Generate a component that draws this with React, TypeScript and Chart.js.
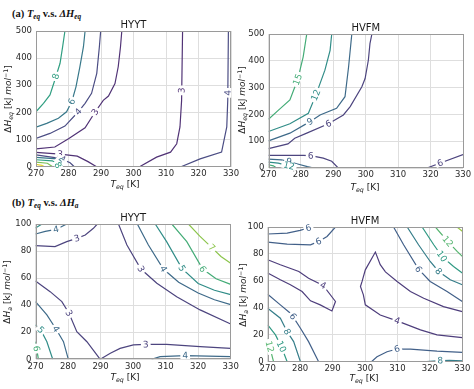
import React, { useEffect, useRef } from 'react';
import { Chart, registerables } from 'chart.js';

Chart.register(...registerables);

type P = [number, number];
type Line = { lvl: number; pts: P[]; lab?: P };

// ---------- axes ----------
const tMin = 270;
const tMax = 330;
const tStep = 10;
const hEqMax = 500;
const hEqStep = 100;
const hAMax = 100;
const hAStep = 20;

// ---------- (a) HYYT : T_eq vs dH_eq ----------
const aH_8: P[] = [[270, 202], [272.3, 233], [274.3, 264], [275.8, 319], [277.4, 381], [278.2, 442], [278.9, 500]];
const aH_6: P[] = [[270, 145], [273.3, 159], [276.9, 178], [279.4, 202], [281, 239], [282.3, 294], [283.5, 368], [284.6, 442], [285.1, 500]];
const aH_4: P[] = [[270, 104], [274.3, 122], [278.9, 149], [283, 202], [285.1, 233], [287.1, 270], [288.7, 344], [289.5, 442], [289.9, 500]];
const aH_3: P[] = [[270, 65], [275.8, 72], [280, 102], [285.1, 143], [288.2, 201], [290.7, 244], [292.3, 260], [294.3, 306], [295.3, 368], [296, 442], [296.4, 500]];
const aH_3b: P[] = [[270, 52], [277.4, 46], [282.7, 38], [286, 18], [288.5, 0]];
const aH_4b: P[] = [[270, 43], [277.4, 30], [280.5, 14], [281.7, 0]];
const aH_6b: P[] = [[270, 34], [276.5, 28], [277.8, 14], [278.2, 0]];
const aH_8b: P[] = [[270, 25], [275, 21], [276.5, 10], [277, 0]];
const aH_10b: P[] = [[270, 16], [273.5, 12], [275, 0]];
const aH_12b: P[] = [[270, 8], [271.8, 4], [272.5, 0]];
const aH_3r: P[] = [[302, 0], [307.1, 34.6], [311.4, 53], [313.3, 84], [314.3, 146], [314.8, 244], [315.1, 500]];
const aH_4r: P[] = [[314.8, 0], [320.5, 28], [327.1, 53], [328.7, 146], [329, 244], [329.2, 500]];

const aHyytLines: Line[] = [
  { lvl: 8, pts: aH_8, lab: [276.5, 331] },
  { lvl: 6, pts: aH_6, lab: [281, 239] },
  { lvl: 4, pts: aH_4, lab: [283, 202] },
  { lvl: 3, pts: aH_3, lab: [288.2, 201] },
  { lvl: 3, pts: aH_3b, lab: [277.4, 46] },
  { lvl: 4, pts: aH_4b, lab: [278.2, 26] },
  { lvl: 6, pts: aH_6b, lab: [277.3, 19] },
  { lvl: 8, pts: aH_8b, lab: [276.8, 5] },
  { lvl: 10, pts: aH_10b },
  { lvl: 12, pts: aH_12b },
  { lvl: 3, pts: aH_3r, lab: [315, 281] },
  { lvl: 4, pts: aH_4r, lab: [329, 272] },
];

// ---------- (a) HVFM : T_eq vs dH_eq ----------
const aV_15: P[] = [[270, 182], [273, 215], [276.6, 254], [279, 330], [280.7, 415], [281.8, 500]];
const aV_12: P[] = [[270, 136], [276.6, 165], [282.3, 204], [284.6, 272], [287.4, 365], [289, 439], [289.5, 500]];
const aV_9: P[] = [[270, 101], [276.6, 130], [282.8, 173], [285.9, 198], [291, 223], [293.6, 266], [294.7, 377], [295.7, 500]];
const aV_6: P[] = [[270, 72], [276, 90], [278.1, 111], [281.8, 130], [288.5, 165], [293.1, 198], [295.2, 229], [298.8, 303], [299.8, 334], [300.8, 402], [301.3, 464], [301.9, 500]];
const aV_6b: P[] = [[270, 47], [280.7, 47], [283, 46], [286.9, 37], [289.5, 25], [291.5, 0]];
const aV_9b: P[] = [[270, 33], [274, 30], [276.3, 24], [279, 15], [282, 5], [284, 0]];
const aV_12b: P[] = [[270, 22], [273, 18], [276.3, 8], [277.5, 0]];
const aV_15b: P[] = [[270, 12], [271.5, 8], [272.5, 0]];
const aV_18b: P[] = [[270, 5], [270.8, 0]];
const aV_6r: P[] = [[318.9, 0], [323, 18.5], [330, 50]];

const aHvfmLines: Line[] = [
  { lvl: 15, pts: aV_15, lab: [279, 330] },
  { lvl: 12, pts: aV_12, lab: [284.6, 272] },
  { lvl: 9, pts: aV_9, lab: [282.8, 173] },
  { lvl: 6, pts: aV_6, lab: [288.5, 165] },
  { lvl: 6, pts: aV_6b, lab: [283, 46] },
  { lvl: 9, pts: aV_9b, lab: [276.3, 24] },
  { lvl: 12, pts: aV_12b, lab: [276.3, 8] },
  { lvl: 15, pts: aV_15b },
  { lvl: 18, pts: aV_18b },
  { lvl: 6, pts: aV_6r, lab: [323, 18.5] },
];

// ---------- (b) HYYT : T_eq vs dH_a ----------
const bH_5t: P[] = [[270, 97], [272, 100]];
const bH_4t: P[] = [[270, 92.6], [273, 94.5], [276.3, 96], [279.6, 100]];
const bH_3t: P[] = [[270, 84], [276, 83.3], [279.6, 87], [282.7, 89.4], [285.3, 91.9], [287.8, 96.8], [289, 100]];
const bH_3r: P[] = [[295.5, 100], [298.1, 84.5], [302.4, 66.7], [307.3, 56.2], [313.4, 46.3], [320.6, 36.5], [330, 26.1]];
const bH_4r: P[] = [[301.3, 100], [304.7, 84.5], [309.3, 66.7], [314, 57], [320, 49], [325, 44], [330, 40.4]];
const bH_5r: P[] = [[306.8, 100], [310.3, 87], [315, 67.2], [320, 56], [325, 51], [330, 47.8]];
const bH_6r: P[] = [[311.9, 100], [316.5, 87], [321.4, 66.7], [325.5, 59.5], [330, 55.4]];
const bH_7r: P[] = [[317, 100], [320.5, 91], [324.2, 82.5], [327, 76], [330, 70.9]];
const bH_3l: P[] = [[270, 57.9], [274.5, 50], [278.1, 42.6], [280.3, 34], [282.7, 20.4], [285.8, 13], [289.9, 0]];
const bH_4l: P[] = [[270, 42.6], [273.5, 32.8], [276.3, 22.4], [278.6, 13], [280.1, 0]];
const bH_5l: P[] = [[270, 25.4], [271.6, 21.7], [273.5, 13], [275.3, 0]];
const bH_6l: P[] = [[270, 13], [270.9, 0]];
const bH_3b: P[] = [[289.9, 0], [293, 4.5], [296, 8.1], [300.1, 10.6], [303.9, 11], [310.3, 11], [320.6, 9.4], [330, 8.1]];
const bH_4b: P[] = [[305.7, 0], [308.3, 2], [316, 2.7], [330, 2]];

const bHyytLines: Line[] = [
  { lvl: 5, pts: bH_5t },
  { lvl: 4, pts: bH_4t, lab: [276.3, 96] },
  { lvl: 3, pts: bH_3t, lab: [282.7, 89.4] },
  { lvl: 3, pts: bH_3r, lab: [302.4, 66.7] },
  { lvl: 4, pts: bH_4r, lab: [309.3, 66.7] },
  { lvl: 5, pts: bH_5r, lab: [315, 67.2] },
  { lvl: 6, pts: bH_6r, lab: [321.4, 66.7] },
  { lvl: 7, pts: bH_7r, lab: [324.2, 82.5] },
  { lvl: 3, pts: bH_3l, lab: [280.3, 34] },
  { lvl: 4, pts: bH_4l, lab: [276.3, 22.4] },
  { lvl: 5, pts: bH_5l, lab: [271.6, 21.7] },
  { lvl: 6, pts: bH_6l, lab: [270.4, 8] },
  { lvl: 3, pts: bH_3b, lab: [303.9, 11] },
  { lvl: 4, pts: bH_4b, lab: [316, 2.7] },
];

// ---------- (b) HVFM : T_eq vs dH_a ----------
const bV_6t: P[] = [[270, 94.8], [276, 95.5], [280, 97.5], [283.2, 99.8]];
const bV_6a: P[] = [[270, 88.8], [276, 87.3], [283.2, 86.8], [285.7, 89.3], [288.3, 93], [290.9, 100]];
const bV_4l: P[] = [[270, 75.7], [273.9, 72], [279.6, 67], [282.6, 62], [287.1, 56.6], [290.9, 44.7], [289.8, 37.7], [286.2, 42.2], [283.2, 45.2], [280.6, 52.1], [277, 57.1], [273.9, 60.8], [270, 65.8]];
const bV_6l: P[] = [[270, 50.1], [273.9, 42.2], [277, 36], [277.8, 33.5], [280.1, 24.8], [282.6, 14.9], [285.7, 0]];
const bV_8l: P[] = [[270, 39.7], [273.9, 32.3], [276, 22.3], [278, 14.9], [280.1, 0]];
const bV_10l: P[] = [[270, 27.3], [272.4, 19.9], [274.2, 11.2], [276, 0]];
const bV_12l: P[] = [[270, 17.4], [270.6, 11.2], [271.8, 0]];
const bV_4m: P[] = [[330, 37.2], [324.2, 40.9], [318.1, 47.1], [314, 52.1], [309.9, 59.6], [306.3, 66.7], [304.7, 72], [303.2, 81.4], [300.1, 68.2], [299.1, 59.6], [298.6, 55.8], [299.5, 49.6], [300.1, 42.2], [304.7, 34.7], [309.9, 30.3], [317.1, 23.6], [322.2, 19.9], [330, 17.9]];
const bV_6r: P[] = [[308.8, 100], [311.9, 86.8], [316.5, 68.7], [320.1, 59.6], [325.3, 52.1], [330, 44.7]];
const bV_8r: P[] = [[313, 100], [316.5, 86.8], [320.1, 74.4], [322.7, 67], [326.3, 60.8], [330, 57.1]];
const bV_10r: P[] = [[317.6, 100], [321.2, 86.8], [323.7, 78.2], [327.3, 70.7], [330, 65.8]];
const bV_12r: P[] = [[321.7, 100], [325.5, 89.3], [328.4, 81.9], [330, 78.2]];
const bV_14r: P[] = [[328.4, 100], [330, 96.8]];
const bV_6b: P[] = [[302, 0], [303.7, 3.7], [306.8, 7.4], [309.9, 9.4], [314, 9.4], [322.2, 7.9], [330, 6.9]];
const bV_8b: P[] = [[319, 0], [322.2, 0.7], [326, 1], [330, 0.7]];

const bHvfmLines: Line[] = [
  { lvl: 6, pts: bV_6t, lab: [282.6, 99] },
  { lvl: 6, pts: bV_6a, lab: [285.7, 89.3] },
  { lvl: 4, pts: bV_4l, lab: [287.1, 56.6] },
  { lvl: 6, pts: bV_6l, lab: [277.8, 33.5] },
  { lvl: 8, pts: bV_8l, lab: [276, 22.3] },
  { lvl: 10, pts: bV_10l, lab: [274.2, 11.2] },
  { lvl: 12, pts: bV_12l, lab: [270.6, 11.2] },
  { lvl: 4, pts: bV_4m, lab: [309.9, 30.3] },
  { lvl: 6, pts: bV_6r, lab: [316.5, 68.7] },
  { lvl: 8, pts: bV_8r, lab: [322.7, 67] },
  { lvl: 10, pts: bV_10r, lab: [323.7, 78.2] },
  { lvl: 12, pts: bV_12r, lab: [325.5, 89.3] },
  { lvl: 14, pts: bV_14r },
  { lvl: 6, pts: bV_6b, lab: [309.9, 9.4] },
  { lvl: 8, pts: bV_8b, lab: [323.2, 1.2] },
];

// ---------- colours ----------
const VIR = ['#440154', '#482475', '#414487', '#355f8d', '#2a788e', '#21918c', '#22a884', '#44bf70', '#7ad151', '#bddf26', '#fde725'];
function hexRgb(h: string) {
  return [parseInt(h.slice(1, 3), 16), parseInt(h.slice(3, 5), 16), parseInt(h.slice(5, 7), 16)];
}
function viridis(t: number) {
  const c = Math.max(0, Math.min(1, t));
  const f = c * 10;
  const i = Math.min(9, Math.floor(f));
  const u = f - i;
  const a = hexRgb(VIR[i]);
  const b = hexRgb(VIR[i + 1]);
  // slightly washed out, like the reference image
  const m = a.map((v, k) => {
    const raw = v + (b[k] - v) * u;
    return Math.round(raw * 0.82 + 120 * 0.18);
  });
  return `rgb(${m[0]},${m[1]},${m[2]})`;
}

const FONT = 'DejaVu Sans';

const contourPlugin = {
  id: 'contourDecor',
  afterDatasetsDraw(chart: any) {
    const { ctx, chartArea: a } = chart;
    const xs = chart.scales.x;
    const ys = chart.scales.y;
    ctx.save();
    ctx.strokeStyle = '#9a9a9a';
    ctx.lineWidth = 1;
    ctx.strokeRect(Math.round(a.left) + 0.5, Math.round(a.top) + 0.5, Math.round(a.right - a.left) - 1, Math.round(a.bottom - a.top) - 1);
    ctx.restore();
    chart.data.datasets.forEach((ds: any) => {
      const lab = ds.ctrLab;
      if (!lab) return;
      const px = xs.getPixelForValue(lab[0]);
      const py = ys.getPixelForValue(lab[1]);
      const pts = ds.data.map((d: any) => [xs.getPixelForValue(d.x), ys.getPixelForValue(d.y)]);
      let best = Infinity;
      let ang = 0;
      let qx = px;
      let qy = py;
      for (let k = 0; k < pts.length - 1; k++) {
        const [x1, y1] = pts[k];
        const [x2, y2] = pts[k + 1];
        const dx = x2 - x1;
        const dy = y2 - y1;
        const L = dx * dx + dy * dy || 1;
        let u = ((px - x1) * dx + (py - y1) * dy) / L;
        u = Math.max(0, Math.min(1, u));
        const cx = x1 + u * dx;
        const cy = y1 + u * dy;
        const d = (cx - px) ** 2 + (cy - py) ** 2;
        if (d < best) {
          best = d;
          ang = Math.atan2(dy, dx);
          qx = cx;
          qy = cy;
        }
      }
      if (ang > Math.PI / 2) ang -= Math.PI;
      if (ang < -Math.PI / 2) ang += Math.PI;
      ctx.save();
      ctx.translate(qx, qy);
      ctx.rotate(ang);
      ctx.font = `9px "${FONT}"`;
      const w = ctx.measureText(ds.ctrText).width;
      ctx.fillStyle = '#ffffff';
      ctx.fillRect(-w / 2 - 2, -3.5, w + 4, 7);
      ctx.fillStyle = ds.borderColor;
      ctx.textAlign = 'center';
      ctx.textBaseline = 'middle';
      ctx.fillText(ds.ctrText, 0, 0.5);
      ctx.restore();
    });
  },
};

type PanelProps = {
  x: number; y: number; w: number; h: number;
  yW: number; xH: number; padR: number;
  title: string; lines: Line[]; yMax: number; yStep: number; lo: number; hi: number;
};

function Panel(p: PanelProps) {
  const ref = useRef<HTMLCanvasElement>(null);
  useEffect(() => {
    const tickFont = { family: FONT, size: 8.5 };
    const chart = new Chart(ref.current as HTMLCanvasElement, {
      type: 'scatter',
      data: {
        datasets: p.lines.map((l) => ({
          data: l.pts.map(([x, y]) => ({ x, y })),
          showLine: true,
          borderColor: viridis((l.lvl - p.lo) / (p.hi - p.lo)),
          borderWidth: 1.2,
          pointRadius: 0,
          pointHoverRadius: 0,
          tension: 0,
          fill: false,
          ctrLab: l.lab,
          ctrText: String(l.lvl),
        })) as any,
      },
      options: {
        responsive: false,
        animation: false,
        devicePixelRatio: 1,
        events: [],
        layout: { padding: { left: 0, top: 0, right: p.padR, bottom: 0 } },
        plugins: {
          legend: { display: false },
          tooltip: { enabled: false },
          title: {
            display: true,
            text: p.title,
            fullSize: false,
            color: '#1a1a1a',
            font: { family: FONT, size: 10, weight: 'normal', lineHeight: 1.2 },
            padding: { top: 2, bottom: 0 },
          },
        },
        scales: {
          x: {
            type: 'linear',
            min: tMin,
            max: tMax,
            ticks: { stepSize: tStep, font: tickFont, color: '#2a2a2a', padding: 2, maxRotation: 0, autoSkip: false },
            grid: { color: '#dedede', lineWidth: 1, drawTicks: false },
            border: { display: false },
            afterFit: (s: any) => { s.height = p.xH; s.paddingLeft = 0; s.paddingRight = 0; },
          },
          y: {
            type: 'linear',
            min: 0,
            max: p.yMax,
            ticks: { stepSize: p.yStep, font: tickFont, color: '#2a2a2a', padding: 4, autoSkip: false },
            grid: { color: '#dedede', lineWidth: 1, drawTicks: false },
            border: { display: false },
            afterFit: (s: any) => { s.width = p.yW; s.paddingTop = 0; s.paddingBottom = 0; },
          },
        },
      } as any,
      plugins: [contourPlugin],
    });
    return () => chart.destroy();
  }, []);
  return (
    <canvas
      ref={ref}
      width={p.w}
      height={p.h}
      style={{ position: 'absolute', left: p.x, top: p.y, width: p.w, height: p.h }}
    />
  );
}

const subStyle: React.CSSProperties = { fontSize: '0.7em', position: 'relative', top: '0.3em' };
const supStyle: React.CSSProperties = { fontSize: '0.7em', position: 'relative', top: '-0.45em' };

function XTitle({ cx, cy }: { cx: number; cy: number }) {
  return (
    <div style={{ position: 'absolute', left: cx, top: cy, transform: 'translate(-50%, -50%)', font: `9px "${FONT}"`, color: '#222', whiteSpace: 'nowrap', lineHeight: '10px' }}>
      <i>T</i><i style={subStyle}>eq</i> [K]
    </div>
  );
}

function YTitle({ cx, cy, sub }: { cx: number; cy: number; sub: string }) {
  return (
    <div style={{ position: 'absolute', left: cx, top: cy, transform: 'translate(-50%, -50%) rotate(-90deg)', font: `9px "${FONT}"`, color: '#222', whiteSpace: 'nowrap', lineHeight: '10px' }}>
      Δ<i>H</i><i style={subStyle}>{sub}</i> [kJ <i>mol</i><span style={supStyle}>−1</span>]
    </div>
  );
}

function Heading({ x, y, tag, sub }: { x: number; y: number; tag: string; sub: string }) {
  return (
    <div style={{ position: 'absolute', left: x, top: y, font: 'bold 10.5px "Liberation Serif"', color: '#111', whiteSpace: 'nowrap', lineHeight: '12px' }}>
      {tag} <i>T</i><i style={subStyle}>eq</i> v.s. <i>ΔH</i><i style={subStyle}>{sub}</i>
    </div>
  );
}

export default function App() {
  return (
    <div style={{ position: 'fixed', left: 0, top: 0, width: 474, height: 389, background: '#fff', overflow: 'hidden' }}>
      <Heading x={12} y={8} tag="(a)" sub="eq" />
      <Heading x={12} y={197} tag="(b)" sub="a" />
      <Panel x={12} y={17} w={228} h={168} yW={24} xH={18.5} padR={9} title="HYYT" lines={aHyytLines} yMax={hEqMax} yStep={hEqStep} lo={2} hi={12} />
      <Panel x={248} y={20} w={224} h={168} yW={20.5} xH={20} padR={9} title="HVFM" lines={aHvfmLines} yMax={hEqMax} yStep={hEqStep} lo={3} hi={21} />
      <Panel x={12} y={210} w={228} h={168} yW={23.5} xH={18.7} padR={9.3} title="HYYT" lines={bHyytLines} yMax={hAMax} yStep={hAStep} lo={2} hi={8} />
      <Panel x={248} y={213} w={224} h={168} yW={19.7} xH={19.3} padR={9.7} title="HVFM" lines={bHvfmLines} yMax={hAMax} yStep={hAStep} lo={2} hi={16} />
      <XTitle cx={125} cy={184} />
      <XTitle cx={365} cy={187} />
      <XTitle cx={125} cy={377} />
      <XTitle cx={364} cy={378} />
      <YTitle cx={7.5} cy={99} sub="eq" />
      <YTitle cx={242} cy={100} sub="eq" />
      <YTitle cx={7} cy={292} sub="a" />
      <YTitle cx={243} cy={295} sub="a" />
    </div>
  );
}
